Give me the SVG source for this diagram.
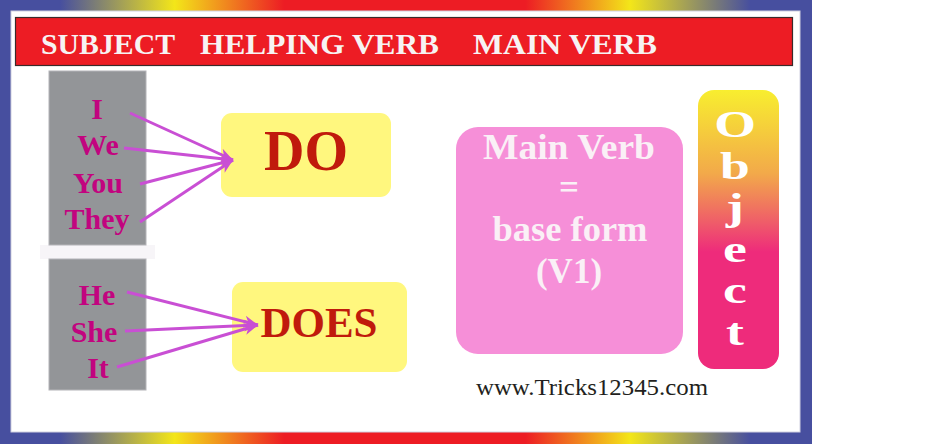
<svg xmlns="http://www.w3.org/2000/svg" width="945" height="444" viewBox="0 0 945 444">
<defs>
<linearGradient id="frameGrad" x1="0" y1="0" x2="812" y2="0" gradientUnits="userSpaceOnUse">
<stop offset="0" stop-color="#474F9F"/>
<stop offset="0.074" stop-color="#474F9F"/>
<stop offset="0.215" stop-color="#F3E619"/>
<stop offset="0.35" stop-color="#ED1C24"/>
<stop offset="0.647" stop-color="#ED1C24"/>
<stop offset="0.776" stop-color="#F3E619"/>
<stop offset="0.924" stop-color="#474F9F"/>
<stop offset="1" stop-color="#474F9F"/>
</linearGradient>
<linearGradient id="objGrad" x1="0" y1="0" x2="0" y2="1">
<stop offset="0" stop-color="#F8EE2F"/>
<stop offset="0.3" stop-color="#F2A94A"/>
<stop offset="0.48" stop-color="#EF5A6A"/>
<stop offset="0.58" stop-color="#EE2B7B"/>
<stop offset="1" stop-color="#EE2B7B"/>
</linearGradient>
<marker id="arr" markerUnits="userSpaceOnUse" markerWidth="16" markerHeight="14" refX="14" refY="7" orient="auto">
<path d="M0,1 L14,7 L0,13 L4,7 Z" fill="#C94FD4"/>
</marker>
<style>
.subj{font-family:"Liberation Serif",serif;font-weight:bold;font-size:30px;fill:#C2047F;text-anchor:middle}
.hdr{font-family:"Liberation Serif",serif;font-weight:bold;font-size:30px;fill:#F7F3F3}
.aux{font-family:"Liberation Serif",serif;font-weight:bold;fill:#C01A0C;text-anchor:middle}
.mv{font-family:"Liberation Serif",serif;font-weight:bold;font-size:35px;fill:#FAF0F6;text-anchor:middle}
.obj{font-family:"Liberation Serif",serif;font-weight:bold;font-size:37px;fill:#FFFFFF;text-anchor:middle}
.gray{fill:#939598;stroke:#B4B4B8;stroke-width:1}
.yel{fill:#FFF77E}
.conn line{stroke:#C94FD4;stroke-width:3;marker-end:url(#arr)}
</style>
</defs>

<g id="frame">
<rect x="0" y="0" width="812" height="444" fill="url(#frameGrad)"/>
<rect x="0" y="11" width="11" height="421" fill="#474F9F"/>
<rect x="800" y="11" width="12" height="421" fill="#474F9F"/>
<rect x="11" y="11" width="789" height="421" fill="#FFFFFF" stroke="#D0D0E0" stroke-width="1"/>
</g>

<g id="header">
<rect x="15.5" y="17.5" width="777" height="48" fill="#ED1C24" stroke="#3A2A2A" stroke-width="1.2"/>
<text class="hdr" x="41" y="54" textLength="134" lengthAdjust="spacingAndGlyphs">SUBJECT</text>
<text class="hdr" x="200" y="54" textLength="239" lengthAdjust="spacingAndGlyphs">HELPING VERB</text>
<text class="hdr" x="473" y="54" textLength="184" lengthAdjust="spacingAndGlyphs">MAIN VERB</text>
</g>

<rect x="40" y="245" width="115" height="14" fill="#F7F5F8"/>

<g id="subjects-plural">
<rect class="gray" x="49" y="71" width="97" height="174"/>
<text class="subj" x="97" y="119">I</text>
<text class="subj" x="98" y="155">We</text>
<text class="subj" x="98" y="193">You</text>
<text class="subj" x="97" y="229">They</text>
</g>

<g id="subjects-singular">
<rect class="gray" x="49" y="259" width="97" height="131"/>
<text class="subj" x="97" y="305">He</text>
<text class="subj" x="94" y="342">She</text>
<text class="subj" x="98" y="378">It</text>
</g>

<g id="do">
<rect class="yel" x="221" y="113" width="170" height="84" rx="11"/>
<text class="aux" x="306" y="170" font-size="56">DO</text>
</g>

<g id="does">
<rect class="yel" x="232" y="282" width="175" height="90" rx="11"/>
<text class="aux" x="319" y="337" font-size="43">DOES</text>
</g>

<g id="main-verb">
<rect x="456" y="127" width="227" height="227" rx="22" fill="#F68FD8"/>
<text class="mv" x="569" y="159" textLength="172" lengthAdjust="spacingAndGlyphs">Main Verb</text>
<text class="mv" x="569" y="199">=</text>
<text class="mv" x="570" y="241" textLength="155" lengthAdjust="spacingAndGlyphs">base form</text>
<text class="mv" x="569" y="283">(V1)</text>
</g>

<g id="object">
<rect x="698" y="90" width="81" height="279" rx="16" fill="url(#objGrad)"/>
<g transform="translate(735,0) scale(1.45,1)">
<text class="obj" x="0" y="137">O</text>
<text class="obj" x="0" y="179">b</text>
<text class="obj" x="0" y="220">j</text>
<text class="obj" x="0" y="262">e</text>
<text class="obj" x="0" y="303">c</text>
<text class="obj" x="0" y="345">t</text>
</g>
</g>

<g id="connectors" class="conn">
<line x1="130" y1="113" x2="233" y2="160"/>
<line x1="124" y1="148" x2="233" y2="160"/>
<line x1="140" y1="184" x2="233" y2="160"/>
<line x1="140" y1="222" x2="233" y2="160"/>
<line x1="127" y1="292" x2="258" y2="325"/>
<line x1="125" y1="331" x2="258" y2="325"/>
<line x1="117" y1="367" x2="258" y2="325"/>
</g>

<g id="website">
<text x="476" y="395" font-family="Liberation Serif, serif" font-size="24" fill="#231F20" textLength="232" lengthAdjust="spacingAndGlyphs">www.Tricks12345.com</text>
</g>
</svg>
